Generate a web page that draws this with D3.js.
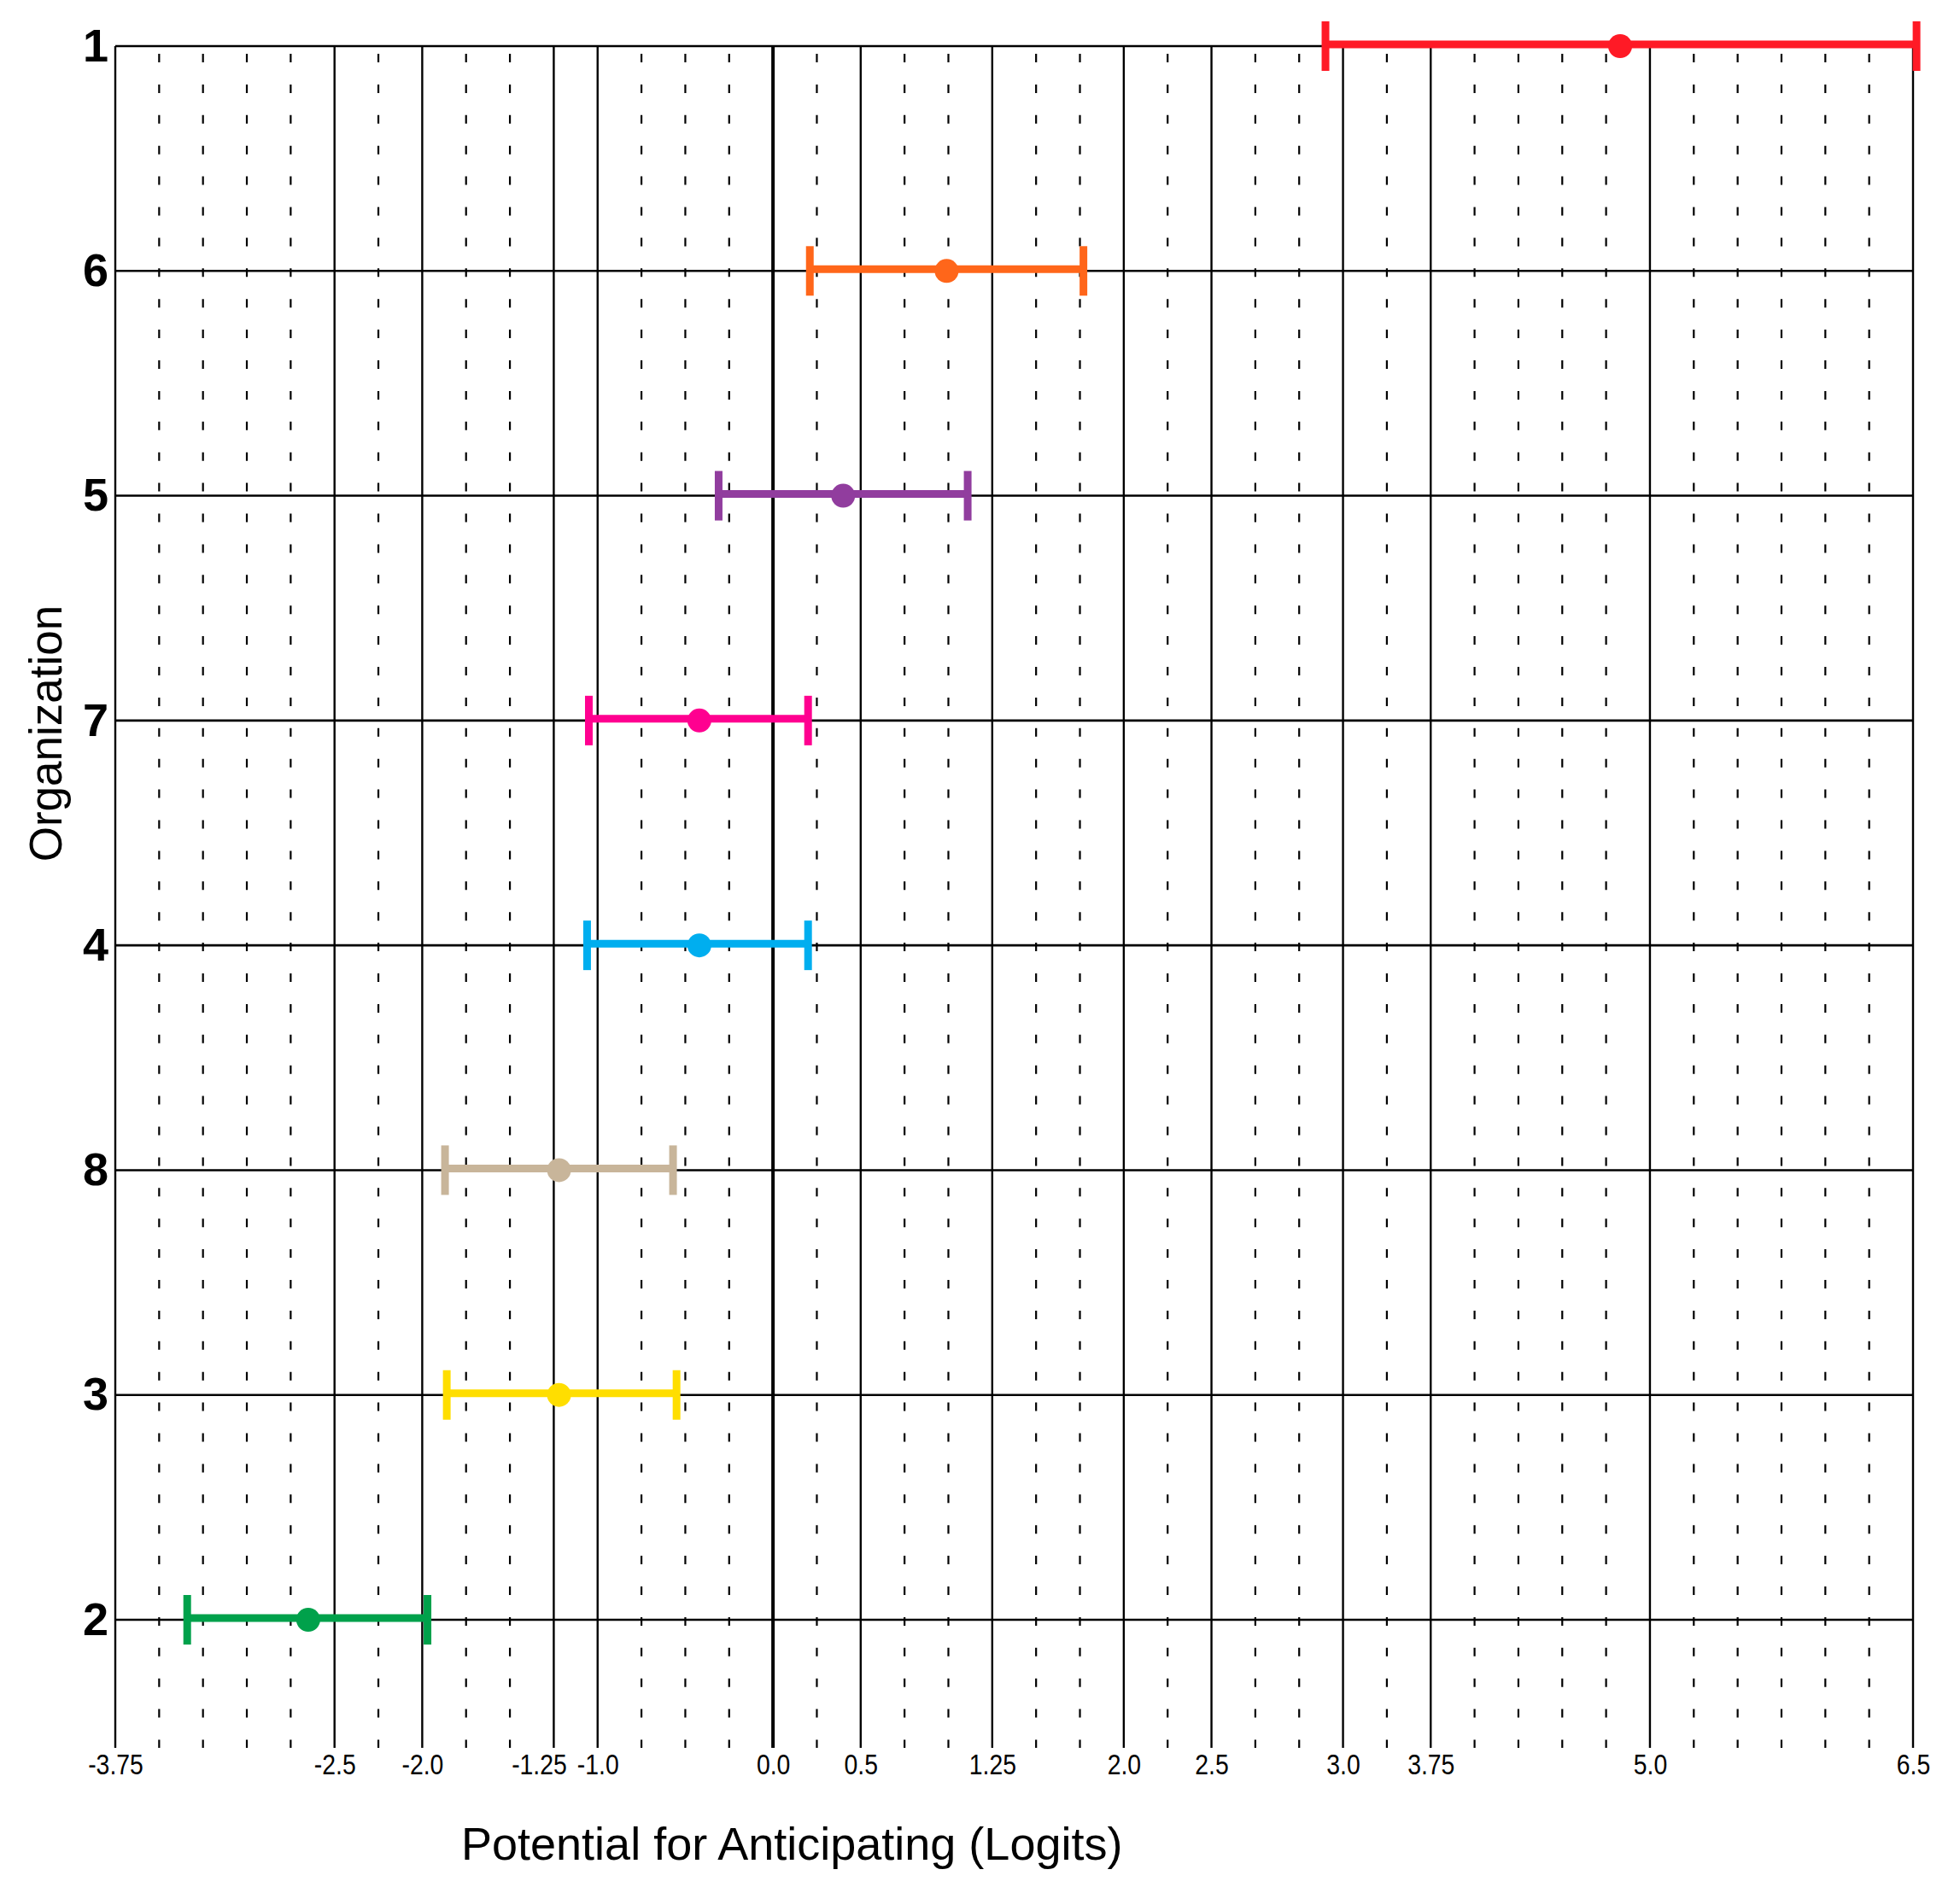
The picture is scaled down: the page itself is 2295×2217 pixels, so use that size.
<!DOCTYPE html>
<html>
<head>
<meta charset="utf-8">
<script src="https://cdn.jsdelivr.net/npm/d3@7"></script>
<style>
  html, body { margin: 0; padding: 0; background: #fff; }
  svg { display: block; }
  text { font-family: "Liberation Sans", Arial, Helvetica, sans-serif; }
</style>
</head>
<body>
<svg id="chart" width="2295" height="2217"></svg>
<script>
// ---- Data ----
const organizations = ["1", "6", "5", "7", "4", "8", "3", "2"];
const estimates     = [4.83, 0.99, 0.40, -0.42, -0.42, -1.22, -1.22, -2.65];
const lowerBounds   = [3.15, 0.21, -0.31, -1.05, -1.06, -1.87, -1.86, -3.34];
const upperBounds   = [6.52, 1.77, 1.11, 0.20, 0.20, -0.57, -0.55, -1.97];
const barColors     = ["#FF1A26", "#FF661A", "#913D9E", "#FF0090", "#00AEEF", "#C8B59A", "#FFDE00", "#00A14B"];

const xTickValues = [-3.75, -2.5, -2.0, -1.25, -1.0, 0.0, 0.5, 1.25, 2.0, 2.5, 3.25, 3.75, 5.0, 6.5];
const xTickLabels = ["-3.75", "-2.5", "-2.0", "-1.25", "-1.0", "0.0", "0.5", "1.25", "2.0", "2.5", "3.0", "3.75", "5.0", "6.5"];
const minorStep = 0.25;
const xDomain = [-3.75, 6.5];

const xTitle = "Potential for Anticipating (Logits)";
const yTitle = "Organization";

// ---- Layout ----
const plotLeft = 135, plotRight = 2240, plotTop = 54, catBottom = 1897, plotBottom = 2047;

const svg = d3.select("#chart");
svg.append("rect").attr("width", 2295).attr("height", 2217).attr("fill", "#fff");

const x = d3.scaleLinear().domain(xDomain).range([plotLeft, plotRight]);
const y = d3.scalePoint().domain(organizations).range([plotTop, catBottom]);

// Minor dashed gridlines
const minorVals = d3.range(xDomain[0], xDomain[1] + 1e-9, minorStep)
  .filter(v => !xTickValues.some(t => Math.abs(t - v) < 1e-6));
svg.append("g").selectAll("line").data(minorVals).join("line")
  .attr("x1", d => x(d)).attr("x2", d => x(d))
  .attr("y1", plotTop).attr("y2", plotBottom)
  .attr("stroke", "#000").attr("stroke-width", 2.2)
  .attr("stroke-dasharray", "10,25.9").attr("stroke-dashoffset", 26.9);

// Major solid gridlines
svg.append("g").selectAll("line").data(xTickValues).join("line")
  .attr("x1", d => x(d)).attr("x2", d => x(d))
  .attr("y1", plotTop).attr("y2", plotBottom)
  .attr("stroke", "#000")
  .attr("stroke-width", d => d === 0 ? 4 : 2.4);

// Horizontal gridlines
svg.append("g").selectAll("line").data(organizations).join("line")
  .attr("x1", plotLeft).attr("x2", plotRight)
  .attr("y1", d => y(d)).attr("y2", d => y(d))
  .attr("stroke", "#000").attr("stroke-width", 2.6);

// X axis (labels only, condensed type)
const xAxis = d3.axisBottom(x).tickValues(xTickValues)
  .tickFormat((d, i) => xTickLabels[i]).tickSize(0).tickPadding(8);
const gx = svg.append("g").attr("transform", `translate(0,${plotBottom})`).call(xAxis);
gx.select(".domain").remove();
gx.selectAll("text").attr("font-size", 33).attr("fill", "#000")
  .attr("transform", "scale(0.86,1)")
  .style("font-family", '"Liberation Sans", Arial, sans-serif');

// nudge overlapping neighbouring labels apart (shift the left one)
const tickGroups = gx.selectAll(".tick").nodes();
for (let i = tickGroups.length - 2; i >= 0; i--) {
  const a = tickGroups[i].getBoundingClientRect();
  const b = tickGroups[i + 1].getBoundingClientRect();
  const gap = 12;
  if (a.right + gap > b.left) {
    const shift = a.right + gap - b.left;
    const t = d3.select(tickGroups[i]).select("text");
    t.attr("x", -shift / 0.86);
  }
}

// Y axis (labels only)
const yAxis = d3.axisLeft(y).tickSize(0).tickPadding(8);
const gy = svg.append("g").attr("transform", `translate(${plotLeft},0)`).call(yAxis);
gy.select(".domain").remove();
gy.selectAll("text").attr("font-size", 54).attr("font-weight", "bold").attr("fill", "#000")
  .style("font-family", '"Liberation Sans", Arial, sans-serif');

// Error bars
const rows = organizations.map((o, i) => ({
  org: o, est: estimates[i], lo: lowerBounds[i], hi: upperBounds[i], color: barColors[i]
}));
const capH = 58;
const bars = svg.append("g").selectAll("g").data(rows).join("g");
bars.append("line")
  .attr("x1", d => x(d.lo)).attr("x2", d => x(d.hi))
  .attr("y1", d => y(d.org) - 2).attr("y2", d => y(d.org) - 2)
  .attr("stroke", d => d.color).attr("stroke-width", 9);
bars.append("line")
  .attr("x1", d => x(d.lo)).attr("x2", d => x(d.lo))
  .attr("y1", d => y(d.org) - capH / 2).attr("y2", d => y(d.org) + capH / 2)
  .attr("stroke", d => d.color).attr("stroke-width", 9);
bars.append("line")
  .attr("x1", d => x(d.hi)).attr("x2", d => x(d.hi))
  .attr("y1", d => y(d.org) - capH / 2).attr("y2", d => y(d.org) + capH / 2)
  .attr("stroke", d => d.color).attr("stroke-width", 9);
bars.append("circle")
  .attr("cx", d => x(d.est)).attr("cy", d => y(d.org)).attr("r", 14)
  .attr("fill", d => d.color);

// Titles
svg.append("text").text(xTitle)
  .attr("x", 540).attr("y", 2178)
  .attr("font-size", 54).attr("fill", "#000");

svg.append("text").text(yTitle)
  .attr("transform", "translate(72,859) rotate(-90)")
  .attr("text-anchor", "middle")
  .attr("font-size", 53).attr("fill", "#000");
</script>
</body>
</html>
